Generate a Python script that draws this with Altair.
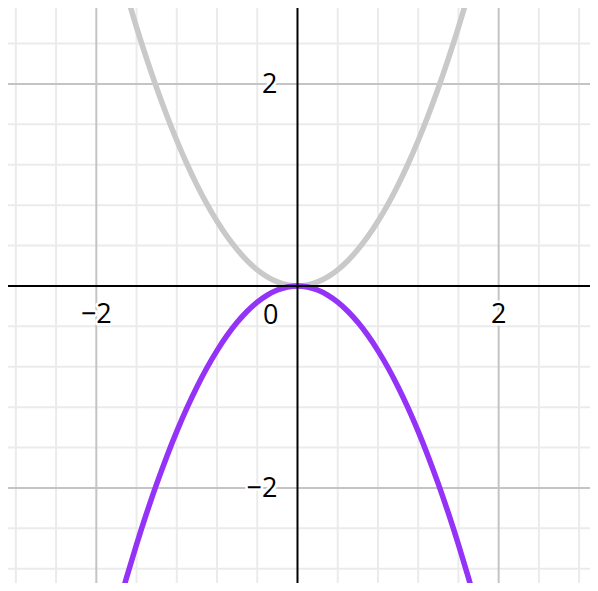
import altair as alt
import pandas as pd

# Curve readings (x, y) from the picture
xs = [-1.8, -1.7, -1.6, -1.5, -1.4, -1.3, -1.2, -1.1, -1.0, -0.9, -0.8, -0.7, -0.6,
      -0.5, -0.4, -0.3, -0.2, -0.1, 0.0, 0.1, 0.2, 0.3, 0.4, 0.5, 0.6, 0.7, 0.8,
      0.9, 1.0, 1.1, 1.2, 1.3, 1.4, 1.5, 1.6, 1.7, 1.8]
gray_y = [3.24, 2.89, 2.56, 2.25, 1.96, 1.69, 1.44, 1.21, 1.0, 0.81, 0.64, 0.49, 0.36,
          0.25, 0.16, 0.09, 0.04, 0.01, 0.0, 0.01, 0.04, 0.09, 0.16, 0.25, 0.36, 0.49, 0.64,
          0.81, 1.0, 1.21, 1.44, 1.69, 1.96, 2.25, 2.56, 2.89, 3.24]
purple_y = [-3.24, -2.89, -2.56, -2.25, -1.96, -1.69, -1.44, -1.21, -1.0, -0.81, -0.64, -0.49, -0.36,
            -0.25, -0.16, -0.09, -0.04, -0.01, 0.0, -0.01, -0.04, -0.09, -0.16, -0.25, -0.36, -0.49, -0.64,
            -0.81, -1.0, -1.21, -1.44, -1.69, -1.96, -2.25, -2.56, -2.89, -3.24]

minor_ticks = [-2.8, -2.4, -1.6, -1.2, -0.8, -0.4, 0.4, 0.8, 1.2, 1.6, 2.4, 2.8]
major_ticks = [-2, 2]
x_label_vals = [-2, 2]
x_label_text = ["\u22122", "2"]
y_label_vals = [-2, 2]
y_label_text = ["\u22122", "2"]

XDOM = [-2.878, 2.908]
YDOM = [-2.941, 2.752]
xs_ = alt.Scale(domain=XDOM, nice=False, zero=False)
ys_ = alt.Scale(domain=YDOM, nice=False, zero=False)

grid_df = pd.DataFrame({"v": minor_ticks})
major_df = pd.DataFrame({"v": major_ticks})
zero_df = pd.DataFrame({"v": [0]})

vminor = alt.Chart(grid_df).mark_rule(color="#ebebeb", strokeWidth=2, clip=True).encode(
    x=alt.X("v:Q", scale=xs_, axis=None))
hminor = alt.Chart(grid_df).mark_rule(color="#ebebeb", strokeWidth=2, clip=True).encode(
    y=alt.Y("v:Q", scale=ys_, axis=None))
vmajor = alt.Chart(major_df).mark_rule(color="#c4c4c4", strokeWidth=2, clip=True).encode(
    x=alt.X("v:Q", scale=xs_, axis=None))
hmajor = alt.Chart(major_df).mark_rule(color="#c4c4c4", strokeWidth=2, clip=True).encode(
    y=alt.Y("v:Q", scale=ys_, axis=None))

gray_df = pd.DataFrame({"x": xs, "y": gray_y})
purple_df = pd.DataFrame({"x": xs, "y": purple_y})

gray_line = alt.Chart(gray_df).mark_line(color="#c9c9c9", strokeWidth=5.5, interpolate="monotone", clip=True).encode(
    x=alt.X("x:Q", scale=xs_, axis=None), y=alt.Y("y:Q", scale=ys_, axis=None), order="x:Q")
purple_line = alt.Chart(purple_df).mark_line(color="#9433f7", strokeWidth=5.5, interpolate="monotone", clip=True).encode(
    x=alt.X("x:Q", scale=xs_, axis=None), y=alt.Y("y:Q", scale=ys_, axis=None), order="x:Q")

xaxis = alt.Chart(zero_df).mark_rule(color="black", strokeWidth=2, clip=True).encode(
    y=alt.Y("v:Q", scale=ys_, axis=None))
yaxis = alt.Chart(zero_df).mark_rule(color="black", strokeWidth=2, clip=True).encode(
    x=alt.X("v:Q", scale=xs_, axis=None))

FONT = "Open Sans"
FS = 27

xl_df = pd.DataFrame({"x": x_label_vals, "y": [0, 0], "t": x_label_text})
yl_df = pd.DataFrame({"x": [0, 0], "y": y_label_vals, "t": y_label_text})
zl_df = pd.DataFrame({"x": [0], "y": [0], "t": ["0"]})


def labels(df, align, dx, dy, halo):
    kw = dict(font=FONT, fontSize=FS, align=align, baseline="middle", dx=dx, dy=dy)
    if halo:
        kw.update(stroke="white", strokeWidth=5, color="white", strokeJoin="round")
    else:
        kw.update(color="black")
    return alt.Chart(df).mark_text(**kw).encode(
        x=alt.X("x:Q", scale=xs_, axis=None),
        y=alt.Y("y:Q", scale=ys_, axis=None),
        text="t:N")


layers = [vminor, hminor, vmajor, hmajor, gray_line, purple_line, xaxis, yaxis]
for halo in (True, False):
    layers.append(labels(xl_df, "center", 0, 29, halo))
    layers.append(labels(yl_df, "right", -20, 1, halo))
    layers.append(labels(zl_df, "right", -19, 30, halo))

chart = alt.layer(*layers).properties(
    width=582, height=575, padding=0, background="white"
).configure_view(stroke=None)

chart.save("out.html", embed_options={"renderer": "svg", "actions": False})
